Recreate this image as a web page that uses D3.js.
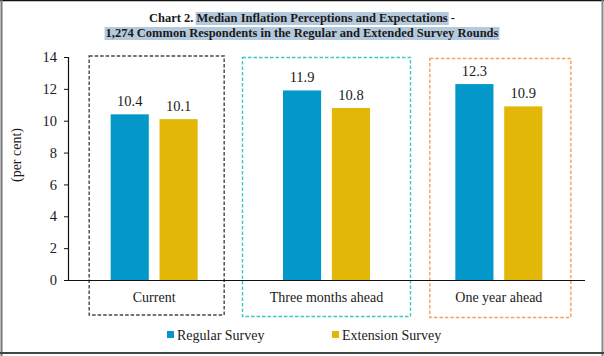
<!DOCTYPE html>
<html><head><meta charset="utf-8">
<script src="https://cdn.jsdelivr.net/npm/d3@7"></script>
<style>
html,body{margin:0;padding:0;background:#fff;}
svg{display:block;}
text{font-family:"Liberation Serif","Times New Roman",serif;fill:#1a1a1a;}
</style></head>
<body><svg id="c" width="604" height="356"></svg>
<script>
const categories = ["Current", "Three months ahead", "One year ahead"];
const seriesNames = ["Regular Survey", "Extension Survey"];
const regularSurvey = [10.4, 11.9, 12.3];
const extensionSurvey = [10.1, 10.8, 10.9];
const yTicks = [0, 2, 4, 6, 8, 10, 12, 14];
const titleLine1a = "Chart 2. ";
const titleLine1b = "Median Inflation Perceptions and Expectations";
const titleLine1c = " -";
const titleLine2 = "1,274 Common Respondents in the Regular and Extended Survey Rounds";
const yLabel = "(per cent)";

const colors = {"Regular Survey": "#0398c9", "Extension Survey": "#e2b707"};
const boxStyles = [
  {stroke: "#3f4654", left: -65, right: 70, top: 56, bottom: 315},
  {stroke: "#3fc6c6", left: -84, right: 84, top: 57.5, bottom: 316.5},
  {stroke: "#f1a35c", left: -69, right: 72, top: 58.5, bottom: 317.5}
];

const svg = d3.select("#c");
// frame
svg.append("rect").attr("x",0).attr("y",0).attr("width",604).attr("height",356).attr("fill","#fff");
svg.append("line").attr("x1",0).attr("x2",604).attr("y1",0.5).attr("y2",0.5).attr("stroke","#111").attr("stroke-width",1.5);
svg.append("line").attr("x1",1.5).attr("x2",1.5).attr("y1",0).attr("y2",356).attr("stroke","#777").attr("stroke-width",2);
svg.append("line").attr("x1",602.5).attr("x2",602.5).attr("y1",0).attr("y2",356).attr("stroke","#888").attr("stroke-width",2);
svg.append("line").attr("x1",0).attr("x2",604).attr("y1",353).attr("y2",353).attr("stroke","#444").attr("stroke-width",2);

// title
const hl = "#b5c9dd";
const t1 = svg.append("text").attr("x",302).attr("y",22).attr("text-anchor","middle")
  .style("font-weight","bold").style("font-size","12.5px").attr("fill","#1c2a44");
t1.append("tspan").text(titleLine1a);
t1.append("tspan").attr("class","hl").text(titleLine1b);
t1.append("tspan").text(titleLine1c);
const t2 = svg.append("text").attr("x",302).attr("y",37).attr("text-anchor","middle")
  .style("font-weight","bold").style("font-size","12.5px").attr("fill","#1c2a44").text(titleLine2);
function addHL(textSel, startChar, nChars, y0, h){
  const node = textSel.node();
  const s = node.getStartPositionOfChar(startChar);
  const e = node.getEndPositionOfChar(startChar + nChars - 1);
  svg.insert("rect", "text").attr("x", s.x - 1).attr("y", y0).attr("width", e.x - s.x + 2).attr("height", h).attr("fill", hl);
}
addHL(t1, titleLine1a.length, titleLine1b.length, 12, 13);
addHL(t2, 0, titleLine2.length, 27, 13);

const y = d3.scaleLinear().domain([0,14]).range([280,57]);
const x0 = d3.scaleBand().domain(categories).range([68,585]).padding(0);
const x1 = d3.scaleBand().domain(seriesNames).range([-43.5,43.5]).paddingInner(0.22);

// boxes
categories.forEach((c,i)=>{
  const b = boxStyles[i];
  const cx = x0(c) + x0.bandwidth()/2;
  svg.append("rect").attr("x", cx + b.left).attr("y", b.top)
    .attr("width", b.right - b.left).attr("height", b.bottom - b.top)
    .attr("fill","none").attr("stroke", b.stroke).attr("stroke-width",1.4)
    .attr("stroke-dasharray","3.5,2");
});

// y axis
const yAxis = d3.axisLeft(y).tickValues(yTicks).tickSize(4).tickPadding(7).tickFormat(d3.format("d"));
const ya = svg.append("g").attr("transform","translate(68,0)").call(yAxis);
ya.select(".domain").attr("stroke","#111").attr("stroke-width",1.2);
ya.selectAll(".tick line").attr("stroke","#111");
ya.selectAll("text").style("font-size","14.5px").style("font-family","'Liberation Serif',serif").attr("fill","#222");

// bars
const data = categories.map((c,i)=>({cat:c, vals:[{s:seriesNames[0], v:regularSurvey[i]},{s:seriesNames[1], v:extensionSurvey[i]}]}));
const g = svg.selectAll("g.grp").data(data).enter().append("g").attr("class","grp")
  .attr("transform", d=>`translate(${x0(d.cat)+x0.bandwidth()/2},0)`);
g.selectAll("rect").data(d=>d.vals).enter().append("rect")
  .attr("x", d=>x1(d.s)).attr("width", x1.bandwidth())
  .attr("y", d=>y(d.v)).attr("height", d=>y(0)-y(d.v)).attr("fill", d=>colors[d.s]);
g.selectAll("text.val").data(d=>d.vals).enter().append("text").attr("class","val")
  .attr("x", d=>x1(d.s)+x1.bandwidth()/2).attr("y", d=>y(d.v)-8)
  .attr("text-anchor","middle").style("font-size","14.5px").text(d=>d3.format(".1f")(d.v));

// x axis
svg.append("line").attr("x1",64).attr("x2",585).attr("y1",280.5).attr("y2",280.5).attr("stroke","#111").attr("stroke-width",1.2);
svg.selectAll("text.cat").data(categories).enter().append("text").attr("class","cat")
  .attr("x", d=>x0(d)+x0.bandwidth()/2).attr("y",302).attr("text-anchor","middle")
  .style("font-size","14px").text(d=>d);

// y label
svg.append("text").attr("transform","translate(21,155) rotate(-90)").attr("text-anchor","middle")
  .style("font-size","14px").text(yLabel);

// legend
const legendX = [167, 332];
seriesNames.forEach((s,i)=>{
  svg.append("rect").attr("x",legendX[i]).attr("y",331).attr("width",7).attr("height",7).attr("fill",colors[s]);
  svg.append("text").attr("x",legendX[i]+10).attr("y",339.5).style("font-size","14px").text(s);
});
</script></body></html>
